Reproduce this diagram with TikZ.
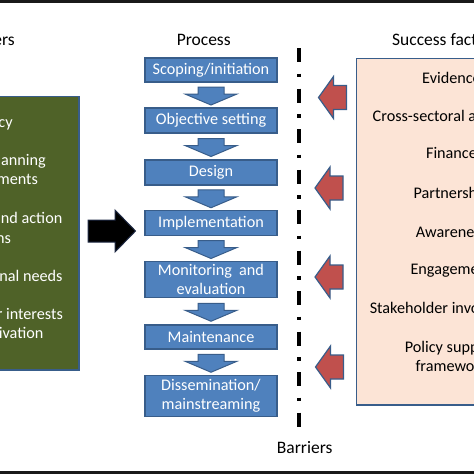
\documentclass[tikz,border=0pt]{standalone}
\usepackage{fontspec}
\setmainfont{Carlito}
\usetikzlibrary{calc}
\definecolor{pblue}{HTML}{4F81BD}
\definecolor{pborder}{HTML}{385D8A}
\definecolor{olivebox}{HTML}{4F6228}
\definecolor{peach}{HTML}{FCE4D6}
\definecolor{rred}{HTML}{C0504D}
\definecolor{navyedge}{HTML}{1F2A44}
\begin{document}
\begin{tikzpicture}[x=1pt,y=-1pt,
  font=\fontsize{16.2}{19.5}\selectfont,
  pbox/.style={draw=pborder, line width=1.3pt, fill=pblue, text=white,
    minimum width=132pt, inner sep=0pt, align=center},
  titletext/.style={font=\fontsize{17.5}{21}\selectfont, anchor=base, inner sep=0pt},
  drvtext/.style={text=white, anchor=base, inner sep=0pt},
  sftext/.style={text=black, anchor=base, inner sep=0pt},
  downarr/.pic={\draw[draw=pborder, line width=1pt, fill=pblue]
    (-13,-9) -- (13,-9) -- (13,-2) -- (26,-2) -- (0,9) -- (-26,-2) -- (-13,-2) -- cycle;},
  leftarr/.pic={\draw[draw=pborder, line width=1.2pt, fill=rred]
    (-14,0) -- (1,-21) -- (1,-12) -- (14,-12) -- (14,12) -- (1,12) -- (1,21) -- cycle;}
]
\useasboundingbox (0,0) rectangle (474,474);
\clip (0,0) rectangle (474,474);
\fill[white] (0,0) rectangle (474,474);

% frame bars
\fill[black!90] (0,0) rectangle (474,3);
\fill[black!90] (0,470.8) rectangle (474,474);

% titles
\node[titletext] (tdrv) at (-10.2,45) {Drivers};
\node[titletext] (tproc) at (203.7,45) {Process};
\node[titletext] (tsucc) at (445.5,45) {Success factors};

% drivers box
\node[draw=pborder, line width=1.5pt, fill=olivebox, minimum width=171pt,
  minimum height=273.3pt, inner sep=0pt] (drivers) at (-6.5,233.35) {};
\node[drvtext] (d1) at (-6.5,127) {Policy};
\node[drvtext] (d2a) at (-6.5,165.4) {Spatial planning};
\node[drvtext] (d2b) at (-6.5,184.4) {requirements};
\node[drvtext] (d3a) at (-6.5,223) {Strategies and action};
\node[drvtext] (d3b) at (-6.5,243) {plans};
\node[drvtext] (d4) at (-6.5,281) {Organisational needs};
\node[drvtext] (d5a) at (-6.5,319.4) {Stakeholder interests};
\node[drvtext] (d5b) at (-6.5,338.7) {and motivation};

% process boxes
\node[pbox, minimum height=24pt] (s1) at (211,70) {Scoping/initiation};
\node[pbox, minimum height=25pt] (s2) at (211,120.5) {Objective setting};
\node[pbox, minimum height=25pt] (s3) at (211,172.5) {Design};
\node[pbox, minimum height=25pt] (s4) at (211,223) {Implementation};
\node[pbox, minimum height=36pt] (s5) at (211,279.5) {Monitoring~ and\\evaluation};
\node[pbox, minimum height=24pt] (s6) at (211,337) {Maintenance};
\node[pbox, minimum height=41pt] (s7) at (211,396) {Dissemination/\\mainstreaming};

\foreach \a/\b in {s1/s2,s2/s3,s3/s4,s4/s5,s5/s6,s6/s7}
  \path ($(\a.south)!0.5!(\b.north)+(0,1)$) pic {downarr};

% black arrow from drivers to process
\coordinate (bk) at (88,231);
\draw[fill=black, draw=navyedge, line width=1pt]
  (bk) ++(0,-11) -- ++(27,0) -- ++(0,-10) -- ++(20.5,21) -- ++(-20.5,21)
  -- ++(0,-10) -- ++(-27,0) -- cycle;

% barriers line
\coordinate (btop) at (299,48);
\coordinate (bbot) at (299,427);
\draw[line width=4pt, dash pattern=on 14pt off 11.5pt on 3.5pt off 11.5pt] (btop) -- (bbot);
\node[titletext] (tbar) at (304.7,453) {Barriers};

% success factors box
\node[draw=pborder, line width=1.5pt, fill=peach, minimum width=189.6pt,
  minimum height=346.7pt, inner sep=0pt] (succ) at (451.5,231.65) {};
\node[sftext] (f1) at (451.5,83) {Evidence};
\node[sftext] (f2) at (451.5,121) {Cross-sectoral approach};
\node[sftext] (f3) at (451.5,158.2) {Finance};
\node[sftext] (f4) at (451.5,198) {Partnership};
\node[sftext] (f5) at (451.5,237) {Awareness};
\node[sftext] (f6) at (451.5,274.7) {Engagement};
\node[sftext] (f7) at (451.5,313) {Stakeholder involvement};
\node[sftext] (f8a) at (451.5,352) {Policy support};
\node[sftext] (f8b) at (451.5,371) {framework};

% red arrows
\path (332.5,97.5) pic {leftarr};
\path (329,188) pic {leftarr};
\path (329,277) pic {leftarr};
\path (329.5,367) pic {leftarr};
\end{tikzpicture}
\end{document}
